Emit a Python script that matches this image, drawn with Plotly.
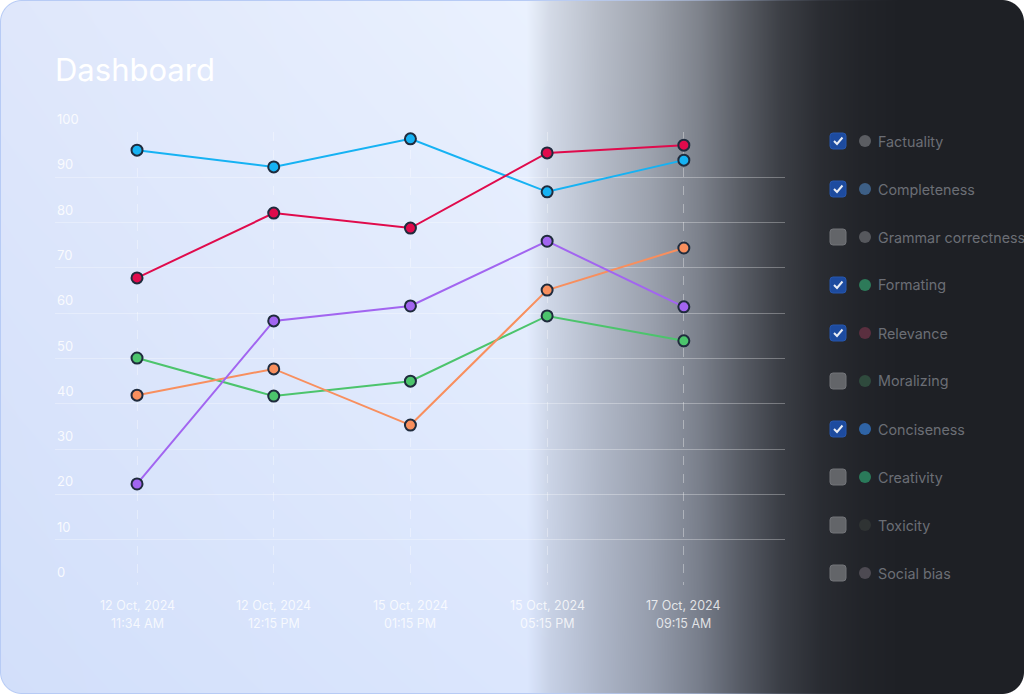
import base64
import struct
import zlib

import numpy as np
import plotly.graph_objects as go

# ---------------- data ----------------
dates = ["12 Oct, 2024", "12 Oct, 2024", "15 Oct, 2024", "15 Oct, 2024", "17 Oct, 2024"]
times = ["11:34 AM", "12:15 PM", "01:15 PM", "05:15 PM", "09:15 AM"]
categories = [f"{d} {t}" for d, t in zip(dates, times)]

series_cyan = [96.0, 92.3, 98.5, 86.8, 93.8]
series_green = [50.1, 41.7, 45.0, 59.4, 53.9]
series_orange = [41.9, 47.7, 35.3, 65.1, 74.4]
series_purple = [22.3, 58.3, 61.6, 75.9, 61.4]
series_red = [67.8, 82.1, 78.8, 95.4, 97.1]

y_ticks = [0, 10, 20, 30, 40, 50, 60, 70, 80, 90, 100]
y_tick_labels = [str(v) for v in y_ticks]

legend_labels = ["Factuality", "Completeness", "Grammar correctness", "Formating", "Relevance",
                 "Moralizing", "Conciseness", "Creativity", "Toxicity", "Social bias"]
legend_checked = [True, True, False, True, True, False, True, False, False, False]
legend_dot_colors = ["#5b5d62", "#3d5f86", "#56585d", "#2d7a59", "#5a2f3f",
                     "#2f4a3d", "#2f64a6", "#2a7a5a", "#2f3333", "#4d4a52"]

# ---------------- geometry ----------------
W, H = 1024, 694
ML, MR, MT, MB = 55, 239, 132, 109
PW, PH = W - ML - MR, H - MT - MB


def px(x):
    return (x - ML) / PW


def py(y):
    return (H - MB - y) / PH


# ---------------- background image (card with gradient) ----------------
def build_background():
    xs = np.arange(W) + 0.5
    ys = np.arange(H) + 0.5
    X, Y = np.meshgrid(xs, ys)
    tl = np.array([223, 231, 251], float)
    tr = np.array([234, 241, 254], float)
    bl = np.array([210, 223, 250], float)
    br = np.array([219, 230, 253], float)
    fx = np.clip(X / 530.0, 0, 1)[..., None]
    fy = (Y / H)[..., None]
    top = tl * (1 - fx) + tr * fx
    bot = bl * (1 - fx) + br * fx
    light = top * (1 - fy) + bot * fy
    sx = [0, 527, 540, 550, 600, 650, 700, 740, 780, 820, 860, 900, 2000]
    sv = [0, 0, 0.06, 0.11, 0.25, 0.37, 0.53, 0.70, 0.85, 0.94, 0.98, 1.0, 1.0]
    s = np.interp(X, sx, sv)[..., None]
    dark = np.array([30, 32, 37], float)
    fill = light * (1 - s) + dark * s
    border = np.array([183, 203, 245], float)
    bcol = border * (1 - s) + fill * s
    # rounded rect signed distance
    r = 22.0
    cx, cy = W / 2, H / 2
    hx, hy = W / 2, H / 2
    qx = np.abs(X - cx) - (hx - r)
    qy = np.abs(Y - cy) - (hy - r)
    outside = np.sqrt(np.maximum(qx, 0) ** 2 + np.maximum(qy, 0) ** 2)
    d = outside + np.minimum(np.maximum(qx, qy), 0) - r
    cover = np.clip(0.5 - d, 0, 1)[..., None]
    bw = np.clip(d + 1.5, 0, 1)[..., None]
    col = fill * (1 - bw) + bcol * bw
    white = np.array([255, 255, 255], float)
    img = white * (1 - cover) + col * cover
    img = np.clip(np.round(img), 0, 255).astype(np.uint8)
    raw = np.concatenate([np.zeros((H, 1), np.uint8), img.reshape(H, W * 3)], axis=1).tobytes()

    def chunk(tag, data):
        c = struct.pack(">I", len(data)) + tag + data
        return c + struct.pack(">I", zlib.crc32(tag + data) & 0xFFFFFFFF)

    png = b"\x89PNG\r\n\x1a\n"
    png += chunk(b"IHDR", struct.pack(">IIBBBBB", W, H, 8, 2, 0, 0, 0))
    png += chunk(b"IDAT", zlib.compress(raw, 9))
    png += chunk(b"IEND", b"")
    return "data:image/png;base64," + base64.b64encode(png).decode()


bg_uri = build_background()

# ---------------- figure ----------------
fig = go.Figure()

series = [
    ("Cyan", series_cyan, "#16b2f3"),
    ("Green", series_green, "#4cc46c"),
    ("Orange", series_orange, "#f88f5e"),
    ("Purple", series_purple, "#a265f0"),
    ("Red", series_red, "#e00b4c"),
]
xi = list(range(len(categories)))
for name, vals, color in series:
    fig.add_trace(go.Scatter(
        x=xi, y=vals, mode="lines+markers", name=name,
        line=dict(color=color, width=2),
        marker=dict(size=11, color=color, line=dict(color="#1f2b3d", width=2)),
        cliponaxis=False, showlegend=False,
    ))

annotations = []
font_main = "Inter, Roboto, 'Open Sans', sans-serif"

annotations.append(dict(
    text="Dashboard", xref="paper", yref="paper", x=px(53), y=py(70),
    xanchor="left", yanchor="middle", showarrow=False,
    font=dict(family=font_main, size=31, color="#ffffff"),
))

for v, lab in zip(y_ticks, y_tick_labels):
    annotations.append(dict(
        text=lab, xref="paper", yref="y", x=0, y=v, yshift=13,
        xanchor="left", yanchor="middle", showarrow=False,
        font=dict(family=font_main, size=13, color="rgba(255,255,255,0.85)"),
    ))

for i, (d, t) in enumerate(zip(dates, times)):
    annotations.append(dict(
        text=d, xref="x", yref="paper", x=i, y=0, yshift=-20,
        xanchor="center", yanchor="middle", showarrow=False,
        font=dict(family=font_main, size=12.5, color="rgba(255,255,255,0.78)"),
    ))
    annotations.append(dict(
        text=t, xref="x", yref="paper", x=i, y=0, yshift=-38,
        xanchor="center", yanchor="middle", showarrow=False,
        font=dict(family=font_main, size=12.5, color="rgba(255,255,255,0.78)"),
    ))

shapes = []


def rounded_rect_path(x0, y0, x1, y1, r):
    pts = [
        f"M {px(x0 + r)},{py(y0)}",
        f"L {px(x1 - r)},{py(y0)}",
        f"Q {px(x1)},{py(y0)} {px(x1)},{py(y0 + r)}",
        f"L {px(x1)},{py(y1 - r)}",
        f"Q {px(x1)},{py(y1)} {px(x1 - r)},{py(y1)}",
        f"L {px(x0 + r)},{py(y1)}",
        f"Q {px(x0)},{py(y1)} {px(x0)},{py(y1 - r)}",
        f"L {px(x0)},{py(y0 + r)}",
        f"Q {px(x0)},{py(y0)} {px(x0 + r)},{py(y0)}",
        "Z",
    ]
    return " ".join(pts)


for k, (lab, chk, dc) in enumerate(zip(legend_labels, legend_checked, legend_dot_colors)):
    yc = 141 + 48 * k
    if chk:
        shapes.append(dict(type="path", xref="paper", yref="paper",
                           path=rounded_rect_path(830, yc - 8, 846, yc + 8, 3),
                           fillcolor="#1d4b9f", line=dict(color="#2656ad", width=1), layer="above"))
        shapes.append(dict(type="path", xref="paper", yref="paper",
                           path=f"M {px(834)},{py(yc)} L {px(837)},{py(yc + 3)} L {px(842.5)},{py(yc - 3.5)}",
                           line=dict(color="#e8ecf4", width=2), layer="above"))
    else:
        shapes.append(dict(type="path", xref="paper", yref="paper",
                           path=rounded_rect_path(830, yc - 8, 846, yc + 8, 3),
                           fillcolor="#636569", line=dict(color="#727479", width=1), layer="above"))
    shapes.append(dict(type="circle", xref="paper", yref="paper",
                       x0=px(859), x1=px(871), y0=py(yc + 6), y1=py(yc - 6),
                       fillcolor=dc, line=dict(width=0), layer="above"))
    annotations.append(dict(
        text=lab, xref="paper", yref="paper", x=px(876), y=py(yc),
        xanchor="left", yanchor="middle", showarrow=False,
        font=dict(family=font_main, size=14.3, color="#6b6e75"),
    ))

fig.update_layout(
    width=W, height=H,
    margin=dict(l=ML, r=MR, t=MT, b=MB, pad=0),
    paper_bgcolor="#ffffff",
    plot_bgcolor="rgba(0,0,0,0)",
    showlegend=False,
    xaxis=dict(
        type="linear", range=[-0.6, 4.74], tickvals=xi, showticklabels=False,
        showgrid=True, gridcolor="rgba(255,255,255,0.35)", griddash="dash", gridwidth=1,
        zeroline=False, showline=False, ticks="",
    ),
    yaxis=dict(
        range=[-0.01, 100.01], tickvals=y_ticks, showticklabels=False,
        showgrid=True, gridcolor="rgba(255,255,255,0.3)", gridwidth=1,
        zeroline=False, showline=False, ticks="",
    ),
    images=[dict(
        source=bg_uri, xref="paper", yref="paper",
        x=-ML / PW, y=1 + MT / PH, sizex=W / PW, sizey=H / PH,
        xanchor="left", yanchor="top", sizing="stretch", layer="below",
    )],
    annotations=annotations,
    shapes=shapes,
)

fig.write_html("out.html")
